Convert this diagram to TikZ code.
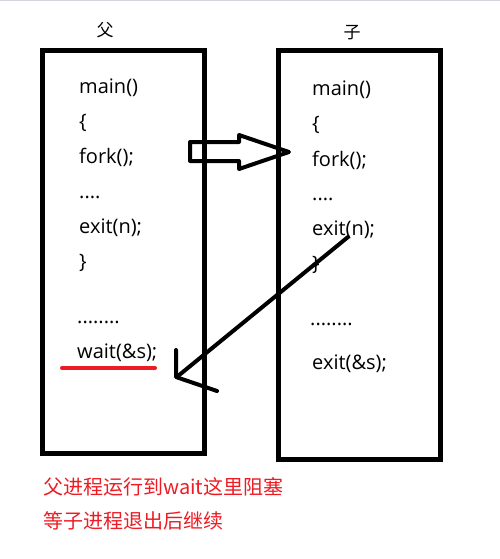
\documentclass[tikz,border=0pt]{standalone}
\usepackage{fontspec}
\setmainfont{Open Sans}
\newfontfamily\cjk{Noto Sans CJK SC}
\usetikzlibrary{
	positioning,
	calc
}
\definecolor{paintred}{RGB}{237,28,36}

\begin{document}
\begin{tikzpicture}[x=1pt, y=-1pt,
	box/.style={draw, line width=5pt, inner sep=0, outer sep=0},
	code/.style={anchor=base west, inner sep=0, font=\fontsize{20}{24}\selectfont},
	title/.style={inner sep=0, font=\cjk\fontsize{17}{20}\selectfont},
	note/.style={anchor=west, inner sep=0, text=paintred, font=\cjk\fontsize{20}{24}\selectfont},
	pen/.style={line width=4pt, line cap=round, line join=round}]

		\useasboundingbox (0, 0) rectangle (500, 559);
		\draw[blue!10!gray!30, line width=1.5pt] (0, .75) -- (500, .75);

		% the two processes
		\node[box, minimum width=162pt, minimum height=402.5pt] (P) at (123, 251.75) {};
		\node[box, minimum width=161.5pt, minimum height=408.5pt] (C) at (359.25, 254.75) {};

		\node[title] (Ptitle) at (105, 30) {父};
		\node[title] (Ctitle) at (352, 33) {子};

		\foreach \t/\y [count=\i] in {{main()}/94, {\{}/128.5, {fork();}/163, {....}/198, {exit(n);}/233, {\}}/268}
			\node[code] (p\i) at (79, \y) {\t};
		\node[code] (pdots) at (77, 323) {........};
		\node[code] (pwait) at (77, 358) {wait(\&s);};

		\foreach \t/\y [count=\i] in {{main()}/96, {\{}/131, {fork();}/166, {....}/200, {exit(n);}/235, {\}}/270}
			\node[code] (c\i) at (312, \y) {\t};
		\node[code] (cdots) at (310, 325) {........};
		\node[code] (cexit) at (312, 369) {exit(\&s);};

		\draw[pen, paintred] (62, 368) coordinate (u1) -- (155, 368) coordinate (u2);

		% fork: hollow arrow
		\draw[pen] (190, 142) -- (239, 142) -- (239, 135) -- (289, 152) coordinate (forktip)
			-- (239, 169) -- (239, 161) -- (190, 161) -- cycle;

		% exit back to wait
		\coordinate (exitstart) at (348, 237);
		\coordinate (waitend) at (178, 376);
		\draw[pen] (exitstart) -- (waitend);
		\draw[pen] ($(waitend)+(-2, -26)$) -- ($(waitend)+(-2, 1)$) -- ($(waitend)+(39, 15)$);

		\node[note] (n1) at (43, 487) {父进程运行到wait这里阻塞};
		\node[note] (n2) at (43, 521) {等子进程退出后继续};

	\end{tikzpicture}
\end{document}
